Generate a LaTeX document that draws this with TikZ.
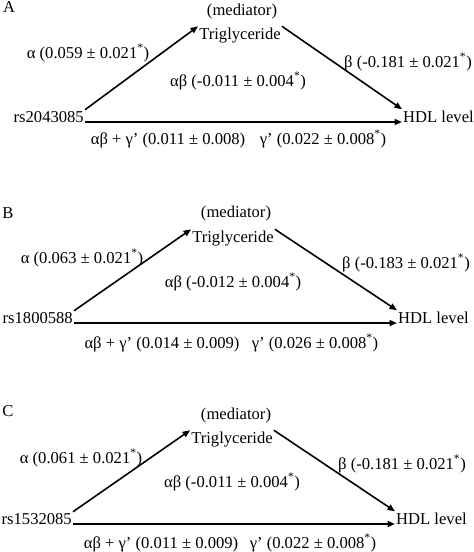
\documentclass[tikz,border=0pt]{standalone}
\usepackage{fontspec}
\setmainfont{Liberation Serif}
\usepackage{tikz}
\usetikzlibrary{arrows.meta}
\newcommand{\sig}{\textsuperscript{*}}

\begin{document}
\begin{tikzpicture}[x=1pt, y=-1pt, >={Triangle[length=7.5pt,width=6pt]},
    txt/.style={inner sep=1pt, font=\fontsize{16.6}{20}\selectfont},
    path/.style={line width=1.6pt, ->}]

    \useasboundingbox (0,0) rectangle (474,552);

    % ── Panel A: rs2043085 ────────────────────────────────────────────────────
    \node[txt, anchor=base] (panelA) at (9,12) {A};
    \node[txt, anchor=base] (medA) at (242,15) {(mediator)};
    \node[txt, anchor=base] (tgA) at (240,39) {Triglyceride};
    \node[txt, anchor=base east] (snpA) at (85,122) {rs2043085};
    \node[txt, anchor=base west] (hdlA) at (402,122) {HDL level};

    \draw[path] (snpA.north east) -- (tgA.north west);
    \draw[path] (tgA.north east) -- (hdlA.north west);
    \draw[path] (snpA.base east) -- (hdlA.base west);

    \node[txt, anchor=base] (alphaA) at (88,58) {α (0.059 ± 0.021\sig)};
    \node[txt, anchor=base east] (betaA) at (473,67) {β (-0.181 ± 0.021\sig)};
    \node[txt, anchor=base] (abA) at (238,86) {αβ (-0.011 ± 0.004\sig)};
    \node[txt, anchor=base] (totA) at (168,144) {αβ + γ’ (0.011 ± 0.008)};
    \node[txt, anchor=base] (gamA) at (323,144) {γ’ (0.022 ± 0.008\sig)};

    % ── Panel B: rs1800588 ────────────────────────────────────────────────────
    \node[txt, anchor=base] (panelB) at (8,218) {B};
    \node[txt, anchor=base] (medB) at (236,217) {(mediator)};
    \node[txt, anchor=base] (tgB) at (233,242) {Triglyceride};
    \node[txt, anchor=base east] (snpB) at (74,323) {rs1800588};
    \node[txt, anchor=base west] (hdlB) at (397,323) {HDL level};

    \draw[path] (snpB.north east) -- (tgB.north west);
    \draw[path] (tgB.north east) -- (hdlB.north west);
    \draw[path] (snpB.base east) -- (hdlB.base west);

    \node[txt, anchor=base] (alphaB) at (82,263) {α (0.063 ± 0.021\sig)};
    \node[txt, anchor=base] (betaB) at (406,268) {β (-0.183 ± 0.021\sig)};
    \node[txt, anchor=base] (abB) at (233,287) {αβ (-0.012 ± 0.004\sig)};
    \node[txt, anchor=base] (totB) at (162,348) {αβ + γ’ (0.014 ± 0.009)};
    \node[txt, anchor=base] (gamB) at (315,348) {γ’ (0.026 ± 0.008\sig)};

    % ── Panel C: rs1532085 ────────────────────────────────────────────────────
    \node[txt, anchor=base] (panelC) at (8,416) {C};
    \node[txt, anchor=base] (medC) at (236,419) {(mediator)};
    \node[txt, anchor=base] (tgC) at (232,443) {Triglyceride};
    \node[txt, anchor=base east] (snpC) at (73,524) {rs1532085};
    \node[txt, anchor=base west] (hdlC) at (395,524) {HDL level};

    \draw[path] (snpC.north east) -- (tgC.north west);
    \draw[path] (tgC.north east) -- (hdlC.north west);
    \draw[path] (snpC.base east) -- (hdlC.base west);

    \node[txt, anchor=base] (alphaC) at (81,463) {α (0.061 ± 0.021\sig)};
    \node[txt, anchor=base] (betaC) at (402,469) {β (-0.181 ± 0.021\sig)};
    \node[txt, anchor=base] (abC) at (232,487) {αβ (-0.011 ± 0.004\sig)};
    \node[txt, anchor=base] (totC) at (161,548) {αβ + γ’ (0.011 ± 0.009)};
    \node[txt, anchor=base] (gamC) at (313,548) {γ’ (0.022 ± 0.008\sig)};

\end{tikzpicture}
\end{document}
